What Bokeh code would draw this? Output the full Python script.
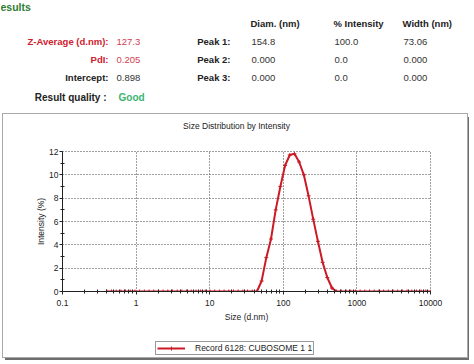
from bokeh.plotting import figure
from bokeh.models import (Legend, LegendItem, FixedTicker, CustomJSTickFormatter, Range1d, Column)
from bokeh.core.properties import value
from bokeh.embed import file_html
from bokeh.resources import INLINE

# ---------------- data ----------------
sizes = [0.4, 0.4632, 0.5365, 0.6213, 0.7195, 0.8332, 0.9649, 1.117, 1.294, 1.499,
         1.736, 2.010, 2.328, 2.696, 3.122, 3.615, 4.187, 4.849, 5.615, 6.503,
         7.531, 8.721, 10.10, 11.70, 13.54, 15.69, 18.17, 21.04, 24.36, 28.21,
         32.67, 37.84, 43.82, 50.75, 58.77, 68.06, 78.82, 91.28, 105.7, 122.4,
         141.8, 164.2, 190.1, 220.2, 255.0, 295.3, 342.0, 396.1, 458.7, 531.2,
         615.1, 712.4, 825.0, 955.4, 1106, 1281, 1484, 1718, 1990, 2305,
         2669, 3091, 3580, 4145, 4801, 5560, 6439, 7456, 8635, 10000]
intensity = [0, 0, 0, 0, 0, 0, 0, 0, 0, 0,
             0, 0, 0, 0, 0, 0, 0, 0, 0, 0,
             0, 0, 0, 0, 0, 0, 0, 0, 0, 0,
             0, 0, 0, 0.9, 2.9, 4.5, 7.0, 9.0, 10.8, 11.7,
             11.8, 11.1, 10.0, 8.2, 6.2, 4.3, 2.5, 1.2, 0.3, 0,
             0, 0, 0, 0, 0, 0, 0, 0, 0, 0,
             0, 0, 0, 0, 0, 0, 0, 0, 0, 0]
x_ticks = [0.1, 1, 10, 100, 1000, 10000]
x_minor = [m * d for d in [0.1, 1, 10, 100, 1000] for m in [2, 3, 4, 5, 6, 7, 8, 9]]
y_ticks = [0, 2, 4, 6, 8, 10, 12]
y_minor = [1, 3, 5, 7, 9, 11]
series_name = "Record 6128: CUBOSOME 1 1"
chart_title = "Size Distribution by Intensity"

headers = ["Diam. (nm)", "% Intensity", "Width (nm)"]
peak_names = ["Peak 1:", "Peak 2:", "Peak 3:"]
peak_diam = ["154.8", "0.000", "0.000"]
peak_int = ["100.0", "0.0", "0.0"]
peak_width = ["73.06", "0.000", "0.000"]
summary_labels = ["Z-Average (d.nm):", "PdI:", "Intercept:"]
summary_values = ["127.3", "0.205", "0.898"]
quality_label = "Result quality :"
quality_value = "Good"
section_title = "esults"

RED = "#cc1a26"
FONT = "Liberation Sans"
DARK = "#222222"
TXT = "#333333"


def blank(fig):
    fig.outline_line_color = None
    fig.xgrid.visible = False
    fig.ygrid.visible = False
    return fig


# ---------------- results block (top) ----------------
info = blank(figure(width=474, height=114, x_range=Range1d(0, 474), y_range=Range1d(114, 0),
                    min_border=0, x_axis_location=None, y_axis_location=None,
                    output_backend="svg", toolbar_location=None))


def txt(fig, xs, ys, texts, color=TXT, size="9.5px", style="normal", align="left"):
    fig.text(x=xs, y=ys, text=texts, text_color=color, text_font=value(FONT),
             text_font_size=size, text_font_style=style, text_align=align,
             text_baseline="middle")


txt(info, [0], [6], [section_title], color="#2e7d32", size="10.5px", style="bold")
txt(info, [250, 333, 402], [23, 23, 23], headers, color=DARK, style="bold")
row_y = [41, 59, 77]
txt(info, [108, 108], row_y[:2], summary_labels[:2], color="#d0202e", style="bold", align="right")
txt(info, [108], row_y[2:], summary_labels[2:], color=DARK, style="bold", align="right")
txt(info, [116, 116], row_y[:2], summary_values[:2], color="#d04050")
txt(info, [116], row_y[2:], summary_values[2:], color=TXT)
txt(info, [230, 230, 230], row_y, peak_names, color=DARK, style="bold", align="right")
txt(info, [251, 251, 251], row_y, peak_diam)
txt(info, [334, 334, 334], row_y, peak_int)
txt(info, [403, 403, 403], row_y, peak_width)
txt(info, [106], [97], [quality_label], color=DARK, style="bold", align="right", size="10px")
txt(info, [118], [97], [quality_value], color="#3cb371", style="bold", size="10px")

# ---------------- chart title strip ----------------
tf = blank(figure(width=464, height=33, x_range=Range1d(0, 368), y_range=Range1d(33, 0),
                  min_border_left=59, min_border_right=37, min_border_top=0, min_border_bottom=0,
                  x_axis_location=None, y_axis_location=None,
                  output_backend="svg", toolbar_location=None))
txt(tf, [174], [11], [chart_title], color=DARK, size="8.5px", align="center")

# ---------------- chart ----------------
p = figure(width=464, height=186, x_axis_type="log", title=None,
           x_range=Range1d(0.1, 10000), y_range=Range1d(0, 12),
           output_backend="svg", toolbar_location=None,
           min_border_left=59, min_border_right=37, min_border_top=4, min_border_bottom=42)
p.outline_line_color = "#404040"
p.outline_line_dash = "1 2"

xt = FixedTicker(ticks=x_ticks, minor_ticks=x_minor)
yt = FixedTicker(ticks=y_ticks, minor_ticks=y_minor)
p.xaxis.ticker = xt
p.yaxis.ticker = yt
p.xgrid.ticker = xt
p.ygrid.ticker = yt
p.xaxis.formatter = CustomJSTickFormatter(code="return tick.toString()")
for g in (p.xgrid, p.ygrid):
    g.grid_line_color = "#404040"
    g.grid_line_dash = "1 2"
    g.grid_line_width = 1

for ax in (p.xaxis, p.yaxis):
    ax.axis_line_color = DARK
    ax.major_tick_line_color = DARK
    ax.minor_tick_line_color = DARK
    ax.major_label_text_font = FONT
    ax.major_label_text_font_size = "8.5px"
    ax.major_label_text_color = DARK
    ax.axis_label_text_font = FONT
    ax.axis_label_text_font_size = "8.5px"
    ax.axis_label_text_font_style = "normal"
    ax.axis_label_text_color = DARK
    ax.major_tick_in = 0
    ax.major_tick_out = 3
    ax.minor_tick_in = 2
    ax.minor_tick_out = 2
p.xaxis.axis_label = "Size (d.nm)"
p.yaxis.axis_label = "Intensity (%)"
p.xaxis.major_label_standoff = 5
p.xaxis.axis_label_standoff = 3
p.yaxis.major_label_standoff = 1
p.yaxis.axis_label_standoff = 0

p.line(sizes, intensity, line_color=RED, line_width=2)
p.scatter(sizes, intensity, marker="cross", size=4, line_color=RED, line_width=1)

# ---------------- legend strip ----------------
lf = blank(figure(width=464, height=24, x_range=Range1d(0, 1), y_range=Range1d(0, 1),
                  min_border_left=59, min_border_right=37, min_border_top=0, min_border_bottom=0,
                  x_axis_location=None, y_axis_location=None,
                  output_backend="svg", toolbar_location=None))
# proxy renderers (outside the visible range) so the legend shows the series style
l_line = lf.line(x=[-1, -2], y=[-1, -2], line_color=RED, line_width=2)
l_pts = lf.scatter(x=[-1], y=[-1], marker="cross", size=5, line_color=RED, line_width=1)
legend = Legend(items=[LegendItem(label=series_name, renderers=[l_line, l_pts])],
                location=(93, 2), border_line_color="#333333", border_line_width=1,
                background_fill_color="white", background_fill_alpha=1,
                padding=1, margin=0, spacing=0, glyph_width=28, glyph_height=10,
                label_height=10, label_standoff=10, label_text_font=FONT,
                label_text_font_size="8.5px", label_text_color=DARK)
lf.add_layout(legend)

panel = Column(children=[tf, p, lf], spacing=0, margin=(0, 0, 0, 3),
               styles={"box-shadow": "0 0 0 1px #a8a8a8, 2px 3px 0 0 #6e6e6e",
                       "background-color": "white"})
page = Column(children=[info, panel], spacing=0)

open("out.html", "w").write(file_html(page, INLINE))
